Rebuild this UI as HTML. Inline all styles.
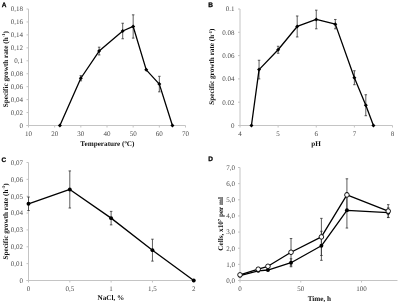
<!DOCTYPE html>
<html><head><meta charset="utf-8"><title>Figure</title>
<style>html,body{margin:0;padding:0;background:#fff;}svg{display:block;text-rendering:geometricPrecision}</style></head>
<body><svg width="400" height="304" viewBox="0 0 400 304">
<rect width="400" height="304" fill="#fff"/>
<line x1="28.50" y1="9.00" x2="28.50" y2="125.50" stroke="#c4c4c4" stroke-width="1"/>
<line x1="26.50" y1="125.50" x2="185.50" y2="125.50" stroke="#c4c4c4" stroke-width="1"/>
<line x1="26.50" y1="125.50" x2="28.50" y2="125.50" stroke="#c4c4c4" stroke-width="1"/>
<text x="23.10" y="127.80" font-size="7" text-anchor="end" font-weight="normal" fill="#4a4a4a" font-family="'Liberation Serif',serif">0</text>
<line x1="26.50" y1="112.56" x2="28.50" y2="112.56" stroke="#c4c4c4" stroke-width="1"/>
<text x="23.10" y="114.86" font-size="7" text-anchor="end" font-weight="normal" fill="#4a4a4a" font-family="'Liberation Serif',serif">0,02</text>
<line x1="26.50" y1="99.61" x2="28.50" y2="99.61" stroke="#c4c4c4" stroke-width="1"/>
<text x="23.10" y="101.91" font-size="7" text-anchor="end" font-weight="normal" fill="#4a4a4a" font-family="'Liberation Serif',serif">0,04</text>
<line x1="26.50" y1="86.67" x2="28.50" y2="86.67" stroke="#c4c4c4" stroke-width="1"/>
<text x="23.10" y="88.97" font-size="7" text-anchor="end" font-weight="normal" fill="#4a4a4a" font-family="'Liberation Serif',serif">0,06</text>
<line x1="26.50" y1="73.72" x2="28.50" y2="73.72" stroke="#c4c4c4" stroke-width="1"/>
<text x="23.10" y="76.02" font-size="7" text-anchor="end" font-weight="normal" fill="#4a4a4a" font-family="'Liberation Serif',serif">0,08</text>
<line x1="26.50" y1="60.78" x2="28.50" y2="60.78" stroke="#c4c4c4" stroke-width="1"/>
<text x="23.10" y="63.08" font-size="7" text-anchor="end" font-weight="normal" fill="#4a4a4a" font-family="'Liberation Serif',serif">0,1</text>
<line x1="26.50" y1="47.83" x2="28.50" y2="47.83" stroke="#c4c4c4" stroke-width="1"/>
<text x="23.10" y="50.13" font-size="7" text-anchor="end" font-weight="normal" fill="#4a4a4a" font-family="'Liberation Serif',serif">0,12</text>
<line x1="26.50" y1="34.89" x2="28.50" y2="34.89" stroke="#c4c4c4" stroke-width="1"/>
<text x="23.10" y="37.19" font-size="7" text-anchor="end" font-weight="normal" fill="#4a4a4a" font-family="'Liberation Serif',serif">0,14</text>
<line x1="26.50" y1="21.94" x2="28.50" y2="21.94" stroke="#c4c4c4" stroke-width="1"/>
<text x="23.10" y="24.24" font-size="7" text-anchor="end" font-weight="normal" fill="#4a4a4a" font-family="'Liberation Serif',serif">0,16</text>
<line x1="26.50" y1="9.00" x2="28.50" y2="9.00" stroke="#c4c4c4" stroke-width="1"/>
<text x="23.10" y="11.30" font-size="7" text-anchor="end" font-weight="normal" fill="#4a4a4a" font-family="'Liberation Serif',serif">0,18</text>
<line x1="28.50" y1="125.50" x2="28.50" y2="127.50" stroke="#c4c4c4" stroke-width="1"/>
<text x="28.50" y="135.50" font-size="7" text-anchor="middle" font-weight="normal" fill="#4a4a4a" font-family="'Liberation Serif',serif">10</text>
<line x1="54.67" y1="125.50" x2="54.67" y2="127.50" stroke="#c4c4c4" stroke-width="1"/>
<text x="54.67" y="135.50" font-size="7" text-anchor="middle" font-weight="normal" fill="#4a4a4a" font-family="'Liberation Serif',serif">20</text>
<line x1="80.83" y1="125.50" x2="80.83" y2="127.50" stroke="#c4c4c4" stroke-width="1"/>
<text x="80.83" y="135.50" font-size="7" text-anchor="middle" font-weight="normal" fill="#4a4a4a" font-family="'Liberation Serif',serif">30</text>
<line x1="107.00" y1="125.50" x2="107.00" y2="127.50" stroke="#c4c4c4" stroke-width="1"/>
<text x="107.00" y="135.50" font-size="7" text-anchor="middle" font-weight="normal" fill="#4a4a4a" font-family="'Liberation Serif',serif">40</text>
<line x1="133.17" y1="125.50" x2="133.17" y2="127.50" stroke="#c4c4c4" stroke-width="1"/>
<text x="133.17" y="135.50" font-size="7" text-anchor="middle" font-weight="normal" fill="#4a4a4a" font-family="'Liberation Serif',serif">50</text>
<line x1="159.33" y1="125.50" x2="159.33" y2="127.50" stroke="#c4c4c4" stroke-width="1"/>
<text x="159.33" y="135.50" font-size="7" text-anchor="middle" font-weight="normal" fill="#4a4a4a" font-family="'Liberation Serif',serif">60</text>
<line x1="185.50" y1="125.50" x2="185.50" y2="127.50" stroke="#c4c4c4" stroke-width="1"/>
<text x="185.50" y="135.50" font-size="7" text-anchor="middle" font-weight="normal" fill="#4a4a4a" font-family="'Liberation Serif',serif">70</text>
<text x="1.70" y="7.30" font-size="6.5" font-weight="bold" fill="#000" stroke="#000" stroke-width="0.25" font-family="'Liberation Sans',sans-serif">A</text>
<text x="107.40" y="145.80" font-size="7.2" text-anchor="middle" font-weight="bold" fill="#111" font-family="'Liberation Serif',serif">Temperature (ºC)</text>
<text transform="translate(7.50,69.25) rotate(-90)" font-size="7.2" text-anchor="middle" font-weight="bold" fill="#111" font-family="'Liberation Serif',serif">Specific growth rate (h<tspan font-size="4.5" dy="-2.5">-1</tspan><tspan dy="2.5">)</tspan></text>
<line x1="80.83" y1="75.66" x2="80.83" y2="80.84" stroke="#333" stroke-width="0.8"/>
<line x1="79.58" y1="75.66" x2="82.08" y2="75.66" stroke="#333" stroke-width="0.8"/>
<line x1="79.58" y1="80.84" x2="82.08" y2="80.84" stroke="#333" stroke-width="0.8"/>
<line x1="99.15" y1="47.19" x2="99.15" y2="54.95" stroke="#333" stroke-width="0.8"/>
<line x1="97.90" y1="47.19" x2="100.40" y2="47.19" stroke="#333" stroke-width="0.8"/>
<line x1="97.90" y1="54.95" x2="100.40" y2="54.95" stroke="#333" stroke-width="0.8"/>
<line x1="122.70" y1="23.24" x2="122.70" y2="38.77" stroke="#333" stroke-width="0.8"/>
<line x1="121.45" y1="23.24" x2="123.95" y2="23.24" stroke="#333" stroke-width="0.8"/>
<line x1="121.45" y1="38.77" x2="123.95" y2="38.77" stroke="#333" stroke-width="0.8"/>
<line x1="133.17" y1="14.83" x2="133.17" y2="38.12" stroke="#333" stroke-width="0.8"/>
<line x1="131.92" y1="14.83" x2="134.42" y2="14.83" stroke="#333" stroke-width="0.8"/>
<line x1="131.92" y1="38.12" x2="134.42" y2="38.12" stroke="#333" stroke-width="0.8"/>
<line x1="159.33" y1="76.31" x2="159.33" y2="91.84" stroke="#333" stroke-width="0.8"/>
<line x1="158.08" y1="76.31" x2="160.58" y2="76.31" stroke="#333" stroke-width="0.8"/>
<line x1="158.08" y1="91.84" x2="160.58" y2="91.84" stroke="#333" stroke-width="0.8"/>
<polyline points="59.90,125.50 80.83,78.25 99.15,51.07 122.70,31.01 133.17,26.47 146.25,69.84 159.33,84.08 172.42,125.50" fill="none" stroke="#000" stroke-width="1.3" stroke-linejoin="round"/>
<polygon points="59.90,123.50 61.90,125.50 59.90,127.50 57.90,125.50" fill="#000"/>
<polygon points="80.83,76.25 82.83,78.25 80.83,80.25 78.83,78.25" fill="#000"/>
<polygon points="99.15,49.07 101.15,51.07 99.15,53.07 97.15,51.07" fill="#000"/>
<polygon points="122.70,29.01 124.70,31.01 122.70,33.01 120.70,31.01" fill="#000"/>
<polygon points="133.17,24.47 135.17,26.47 133.17,28.47 131.17,26.47" fill="#000"/>
<polygon points="146.25,67.84 148.25,69.84 146.25,71.84 144.25,69.84" fill="#000"/>
<polygon points="159.33,82.08 161.33,84.08 159.33,86.08 157.33,84.08" fill="#000"/>
<polygon points="172.42,123.50 174.42,125.50 172.42,127.50 170.42,125.50" fill="#000"/>
<line x1="240.00" y1="9.00" x2="240.00" y2="125.50" stroke="#c4c4c4" stroke-width="1"/>
<line x1="238.00" y1="125.50" x2="392.50" y2="125.50" stroke="#c4c4c4" stroke-width="1"/>
<line x1="238.00" y1="125.50" x2="240.00" y2="125.50" stroke="#c4c4c4" stroke-width="1"/>
<text x="234.60" y="127.80" font-size="7" text-anchor="end" font-weight="normal" fill="#4a4a4a" font-family="'Liberation Serif',serif">0</text>
<line x1="238.00" y1="102.20" x2="240.00" y2="102.20" stroke="#c4c4c4" stroke-width="1"/>
<text x="234.60" y="104.50" font-size="7" text-anchor="end" font-weight="normal" fill="#4a4a4a" font-family="'Liberation Serif',serif">0.02</text>
<line x1="238.00" y1="78.90" x2="240.00" y2="78.90" stroke="#c4c4c4" stroke-width="1"/>
<text x="234.60" y="81.20" font-size="7" text-anchor="end" font-weight="normal" fill="#4a4a4a" font-family="'Liberation Serif',serif">0.04</text>
<line x1="238.00" y1="55.60" x2="240.00" y2="55.60" stroke="#c4c4c4" stroke-width="1"/>
<text x="234.60" y="57.90" font-size="7" text-anchor="end" font-weight="normal" fill="#4a4a4a" font-family="'Liberation Serif',serif">0.06</text>
<line x1="238.00" y1="32.30" x2="240.00" y2="32.30" stroke="#c4c4c4" stroke-width="1"/>
<text x="234.60" y="34.60" font-size="7" text-anchor="end" font-weight="normal" fill="#4a4a4a" font-family="'Liberation Serif',serif">0.08</text>
<line x1="238.00" y1="9.00" x2="240.00" y2="9.00" stroke="#c4c4c4" stroke-width="1"/>
<text x="234.60" y="11.30" font-size="7" text-anchor="end" font-weight="normal" fill="#4a4a4a" font-family="'Liberation Serif',serif">0.1</text>
<line x1="240.00" y1="125.50" x2="240.00" y2="127.50" stroke="#c4c4c4" stroke-width="1"/>
<text x="240.00" y="135.50" font-size="7" text-anchor="middle" font-weight="normal" fill="#4a4a4a" font-family="'Liberation Serif',serif">4</text>
<line x1="278.12" y1="125.50" x2="278.12" y2="127.50" stroke="#c4c4c4" stroke-width="1"/>
<text x="278.12" y="135.50" font-size="7" text-anchor="middle" font-weight="normal" fill="#4a4a4a" font-family="'Liberation Serif',serif">5</text>
<line x1="316.25" y1="125.50" x2="316.25" y2="127.50" stroke="#c4c4c4" stroke-width="1"/>
<text x="316.25" y="135.50" font-size="7" text-anchor="middle" font-weight="normal" fill="#4a4a4a" font-family="'Liberation Serif',serif">6</text>
<line x1="354.38" y1="125.50" x2="354.38" y2="127.50" stroke="#c4c4c4" stroke-width="1"/>
<text x="354.38" y="135.50" font-size="7" text-anchor="middle" font-weight="normal" fill="#4a4a4a" font-family="'Liberation Serif',serif">7</text>
<line x1="392.50" y1="125.50" x2="392.50" y2="127.50" stroke="#c4c4c4" stroke-width="1"/>
<text x="392.50" y="135.50" font-size="7" text-anchor="middle" font-weight="normal" fill="#4a4a4a" font-family="'Liberation Serif',serif">8</text>
<text x="208.30" y="7.30" font-size="6.5" font-weight="bold" fill="#000" stroke="#000" stroke-width="0.25" font-family="'Liberation Sans',sans-serif">B</text>
<text x="316.10" y="145.60" font-size="7.2" text-anchor="middle" font-weight="bold" fill="#111" font-family="'Liberation Serif',serif">pH</text>
<text transform="translate(214.00,66.70) rotate(-90)" font-size="7.2" text-anchor="middle" font-weight="bold" fill="#111" font-family="'Liberation Serif',serif">Specific growth rate (h<tspan font-size="4.5" dy="-2.5">-1</tspan><tspan dy="2.5">)</tspan></text>
<line x1="259.06" y1="60.26" x2="259.06" y2="78.90" stroke="#333" stroke-width="0.8"/>
<line x1="257.81" y1="60.26" x2="260.31" y2="60.26" stroke="#333" stroke-width="0.8"/>
<line x1="257.81" y1="78.90" x2="260.31" y2="78.90" stroke="#333" stroke-width="0.8"/>
<line x1="278.12" y1="46.28" x2="278.12" y2="53.27" stroke="#333" stroke-width="0.8"/>
<line x1="276.88" y1="46.28" x2="279.38" y2="46.28" stroke="#333" stroke-width="0.8"/>
<line x1="276.88" y1="53.27" x2="279.38" y2="53.27" stroke="#333" stroke-width="0.8"/>
<line x1="297.19" y1="15.99" x2="297.19" y2="36.96" stroke="#333" stroke-width="0.8"/>
<line x1="295.94" y1="15.99" x2="298.44" y2="15.99" stroke="#333" stroke-width="0.8"/>
<line x1="295.94" y1="36.96" x2="298.44" y2="36.96" stroke="#333" stroke-width="0.8"/>
<line x1="316.25" y1="10.16" x2="316.25" y2="28.81" stroke="#333" stroke-width="0.8"/>
<line x1="315.00" y1="10.16" x2="317.50" y2="10.16" stroke="#333" stroke-width="0.8"/>
<line x1="315.00" y1="28.81" x2="317.50" y2="28.81" stroke="#333" stroke-width="0.8"/>
<line x1="335.31" y1="19.48" x2="335.31" y2="28.81" stroke="#333" stroke-width="0.8"/>
<line x1="334.06" y1="19.48" x2="336.56" y2="19.48" stroke="#333" stroke-width="0.8"/>
<line x1="334.06" y1="28.81" x2="336.56" y2="28.81" stroke="#333" stroke-width="0.8"/>
<line x1="354.38" y1="70.75" x2="354.38" y2="84.72" stroke="#333" stroke-width="0.8"/>
<line x1="353.12" y1="70.75" x2="355.62" y2="70.75" stroke="#333" stroke-width="0.8"/>
<line x1="353.12" y1="84.72" x2="355.62" y2="84.72" stroke="#333" stroke-width="0.8"/>
<line x1="365.81" y1="94.74" x2="365.81" y2="115.71" stroke="#333" stroke-width="0.8"/>
<line x1="364.56" y1="94.74" x2="367.06" y2="94.74" stroke="#333" stroke-width="0.8"/>
<line x1="364.56" y1="115.71" x2="367.06" y2="115.71" stroke="#333" stroke-width="0.8"/>
<polyline points="251.44,125.50 259.06,69.58 278.12,49.77 297.19,26.47 316.25,19.48 335.31,24.15 354.38,77.73 365.81,105.23 373.44,125.50" fill="none" stroke="#000" stroke-width="1.3" stroke-linejoin="round"/>
<polygon points="251.44,123.50 253.44,125.50 251.44,127.50 249.44,125.50" fill="#000"/>
<polygon points="259.06,67.58 261.06,69.58 259.06,71.58 257.06,69.58" fill="#000"/>
<polygon points="278.12,47.77 280.12,49.77 278.12,51.77 276.12,49.77" fill="#000"/>
<polygon points="297.19,24.47 299.19,26.47 297.19,28.47 295.19,26.47" fill="#000"/>
<polygon points="316.25,17.48 318.25,19.48 316.25,21.48 314.25,19.48" fill="#000"/>
<polygon points="335.31,22.15 337.31,24.15 335.31,26.15 333.31,24.15" fill="#000"/>
<polygon points="354.38,75.73 356.38,77.73 354.38,79.73 352.38,77.73" fill="#000"/>
<polygon points="365.81,103.23 367.81,105.23 365.81,107.23 363.81,105.23" fill="#000"/>
<polygon points="373.44,123.50 375.44,125.50 373.44,127.50 371.44,125.50" fill="#000"/>
<line x1="28.50" y1="162.50" x2="28.50" y2="280.50" stroke="#c4c4c4" stroke-width="1"/>
<line x1="26.50" y1="280.50" x2="193.75" y2="280.50" stroke="#c4c4c4" stroke-width="1"/>
<line x1="26.50" y1="280.50" x2="28.50" y2="280.50" stroke="#c4c4c4" stroke-width="1"/>
<text x="23.10" y="282.80" font-size="7" text-anchor="end" font-weight="normal" fill="#4a4a4a" font-family="'Liberation Serif',serif">0</text>
<line x1="26.50" y1="263.64" x2="28.50" y2="263.64" stroke="#c4c4c4" stroke-width="1"/>
<text x="23.10" y="265.94" font-size="7" text-anchor="end" font-weight="normal" fill="#4a4a4a" font-family="'Liberation Serif',serif">0,01</text>
<line x1="26.50" y1="246.79" x2="28.50" y2="246.79" stroke="#c4c4c4" stroke-width="1"/>
<text x="23.10" y="249.09" font-size="7" text-anchor="end" font-weight="normal" fill="#4a4a4a" font-family="'Liberation Serif',serif">0,02</text>
<line x1="26.50" y1="229.93" x2="28.50" y2="229.93" stroke="#c4c4c4" stroke-width="1"/>
<text x="23.10" y="232.23" font-size="7" text-anchor="end" font-weight="normal" fill="#4a4a4a" font-family="'Liberation Serif',serif">0,03</text>
<line x1="26.50" y1="213.07" x2="28.50" y2="213.07" stroke="#c4c4c4" stroke-width="1"/>
<text x="23.10" y="215.37" font-size="7" text-anchor="end" font-weight="normal" fill="#4a4a4a" font-family="'Liberation Serif',serif">0,04</text>
<line x1="26.50" y1="196.21" x2="28.50" y2="196.21" stroke="#c4c4c4" stroke-width="1"/>
<text x="23.10" y="198.51" font-size="7" text-anchor="end" font-weight="normal" fill="#4a4a4a" font-family="'Liberation Serif',serif">0,05</text>
<line x1="26.50" y1="179.36" x2="28.50" y2="179.36" stroke="#c4c4c4" stroke-width="1"/>
<text x="23.10" y="181.66" font-size="7" text-anchor="end" font-weight="normal" fill="#4a4a4a" font-family="'Liberation Serif',serif">0,06</text>
<line x1="26.50" y1="162.50" x2="28.50" y2="162.50" stroke="#c4c4c4" stroke-width="1"/>
<text x="23.10" y="164.80" font-size="7" text-anchor="end" font-weight="normal" fill="#4a4a4a" font-family="'Liberation Serif',serif">0,07</text>
<line x1="28.50" y1="280.50" x2="28.50" y2="282.50" stroke="#c4c4c4" stroke-width="1"/>
<text x="28.50" y="290.50" font-size="7" text-anchor="middle" font-weight="normal" fill="#4a4a4a" font-family="'Liberation Serif',serif">0</text>
<line x1="69.81" y1="280.50" x2="69.81" y2="282.50" stroke="#c4c4c4" stroke-width="1"/>
<text x="69.81" y="290.50" font-size="7" text-anchor="middle" font-weight="normal" fill="#4a4a4a" font-family="'Liberation Serif',serif">0,5</text>
<line x1="111.12" y1="280.50" x2="111.12" y2="282.50" stroke="#c4c4c4" stroke-width="1"/>
<text x="111.12" y="290.50" font-size="7" text-anchor="middle" font-weight="normal" fill="#4a4a4a" font-family="'Liberation Serif',serif">1</text>
<line x1="152.44" y1="280.50" x2="152.44" y2="282.50" stroke="#c4c4c4" stroke-width="1"/>
<text x="152.44" y="290.50" font-size="7" text-anchor="middle" font-weight="normal" fill="#4a4a4a" font-family="'Liberation Serif',serif">1,5</text>
<line x1="193.75" y1="280.50" x2="193.75" y2="282.50" stroke="#c4c4c4" stroke-width="1"/>
<text x="193.75" y="290.50" font-size="7" text-anchor="middle" font-weight="normal" fill="#4a4a4a" font-family="'Liberation Serif',serif">2</text>
<text x="1.40" y="161.80" font-size="6.5" font-weight="bold" fill="#000" stroke="#000" stroke-width="0.25" font-family="'Liberation Sans',sans-serif">C</text>
<text x="110.90" y="300.00" font-size="7.2" text-anchor="middle" font-weight="bold" fill="#111" font-family="'Liberation Serif',serif">NaCl, %</text>
<text transform="translate(7.60,221.50) rotate(-90)" font-size="7.2" text-anchor="middle" font-weight="bold" fill="#111" font-family="'Liberation Serif',serif">Specific growth rate (h<tspan font-size="4.5" dy="-2.5">-1</tspan><tspan dy="2.5">)</tspan></text>
<line x1="28.50" y1="197.06" x2="28.50" y2="210.54" stroke="#333" stroke-width="0.8"/>
<line x1="27.25" y1="197.06" x2="29.75" y2="197.06" stroke="#333" stroke-width="0.8"/>
<line x1="27.25" y1="210.54" x2="29.75" y2="210.54" stroke="#333" stroke-width="0.8"/>
<line x1="69.81" y1="170.93" x2="69.81" y2="208.01" stroke="#333" stroke-width="0.8"/>
<line x1="68.56" y1="170.93" x2="71.06" y2="170.93" stroke="#333" stroke-width="0.8"/>
<line x1="68.56" y1="208.01" x2="71.06" y2="208.01" stroke="#333" stroke-width="0.8"/>
<line x1="111.12" y1="211.39" x2="111.12" y2="224.87" stroke="#333" stroke-width="0.8"/>
<line x1="109.88" y1="211.39" x2="112.38" y2="211.39" stroke="#333" stroke-width="0.8"/>
<line x1="109.88" y1="224.87" x2="112.38" y2="224.87" stroke="#333" stroke-width="0.8"/>
<line x1="152.44" y1="239.20" x2="152.44" y2="261.11" stroke="#333" stroke-width="0.8"/>
<line x1="151.19" y1="239.20" x2="153.69" y2="239.20" stroke="#333" stroke-width="0.8"/>
<line x1="151.19" y1="261.11" x2="153.69" y2="261.11" stroke="#333" stroke-width="0.8"/>
<polyline points="28.50,203.80 69.81,189.47 111.12,218.13 152.44,250.16 193.75,280.50" fill="none" stroke="#000" stroke-width="1.3" stroke-linejoin="round"/>
<circle cx="28.50" cy="203.80" r="1.95" fill="#000"/>
<circle cx="69.81" cy="189.47" r="1.95" fill="#000"/>
<circle cx="111.12" cy="218.13" r="1.95" fill="#000"/>
<circle cx="152.44" cy="250.16" r="1.95" fill="#000"/>
<circle cx="193.75" cy="280.50" r="1.95" fill="#000"/>
<line x1="240.00" y1="167.50" x2="240.00" y2="280.50" stroke="#c4c4c4" stroke-width="1"/>
<line x1="238.00" y1="280.50" x2="397.50" y2="280.50" stroke="#c4c4c4" stroke-width="1"/>
<line x1="238.00" y1="280.50" x2="240.00" y2="280.50" stroke="#c4c4c4" stroke-width="1"/>
<text x="235.10" y="282.80" font-size="7" text-anchor="end" font-weight="normal" fill="#4a4a4a" font-family="'Liberation Serif',serif">0,0</text>
<line x1="238.00" y1="264.36" x2="240.00" y2="264.36" stroke="#c4c4c4" stroke-width="1"/>
<text x="235.10" y="266.66" font-size="7" text-anchor="end" font-weight="normal" fill="#4a4a4a" font-family="'Liberation Serif',serif">1,0</text>
<line x1="238.00" y1="248.21" x2="240.00" y2="248.21" stroke="#c4c4c4" stroke-width="1"/>
<text x="235.10" y="250.51" font-size="7" text-anchor="end" font-weight="normal" fill="#4a4a4a" font-family="'Liberation Serif',serif">2,0</text>
<line x1="238.00" y1="232.07" x2="240.00" y2="232.07" stroke="#c4c4c4" stroke-width="1"/>
<text x="235.10" y="234.37" font-size="7" text-anchor="end" font-weight="normal" fill="#4a4a4a" font-family="'Liberation Serif',serif">3,0</text>
<line x1="238.00" y1="215.93" x2="240.00" y2="215.93" stroke="#c4c4c4" stroke-width="1"/>
<text x="235.10" y="218.23" font-size="7" text-anchor="end" font-weight="normal" fill="#4a4a4a" font-family="'Liberation Serif',serif">4,0</text>
<line x1="238.00" y1="199.79" x2="240.00" y2="199.79" stroke="#c4c4c4" stroke-width="1"/>
<text x="235.10" y="202.09" font-size="7" text-anchor="end" font-weight="normal" fill="#4a4a4a" font-family="'Liberation Serif',serif">5,0</text>
<line x1="238.00" y1="183.64" x2="240.00" y2="183.64" stroke="#c4c4c4" stroke-width="1"/>
<text x="235.10" y="185.94" font-size="7" text-anchor="end" font-weight="normal" fill="#4a4a4a" font-family="'Liberation Serif',serif">6,0</text>
<line x1="238.00" y1="167.50" x2="240.00" y2="167.50" stroke="#c4c4c4" stroke-width="1"/>
<text x="235.10" y="169.80" font-size="7" text-anchor="end" font-weight="normal" fill="#4a4a4a" font-family="'Liberation Serif',serif">7,0</text>
<line x1="240.00" y1="280.50" x2="240.00" y2="282.50" stroke="#c4c4c4" stroke-width="1"/>
<text x="240.00" y="290.50" font-size="7" text-anchor="middle" font-weight="normal" fill="#4a4a4a" font-family="'Liberation Serif',serif">0</text>
<line x1="300.75" y1="280.50" x2="300.75" y2="282.50" stroke="#c4c4c4" stroke-width="1"/>
<text x="300.75" y="290.50" font-size="7" text-anchor="middle" font-weight="normal" fill="#4a4a4a" font-family="'Liberation Serif',serif">50</text>
<line x1="361.50" y1="280.50" x2="361.50" y2="282.50" stroke="#c4c4c4" stroke-width="1"/>
<text x="361.50" y="290.50" font-size="7" text-anchor="middle" font-weight="normal" fill="#4a4a4a" font-family="'Liberation Serif',serif">100</text>
<text x="208.30" y="161.40" font-size="6.5" font-weight="bold" fill="#000" stroke="#000" stroke-width="0.25" font-family="'Liberation Sans',sans-serif">D</text>
<text x="319.40" y="301.30" font-size="7.2" text-anchor="middle" font-weight="bold" fill="#111" font-family="'Liberation Serif',serif">Time, h</text>
<text transform="translate(223.20,223.90) rotate(-90)" font-size="7.2" text-anchor="middle" font-weight="bold" fill="#111" font-family="'Liberation Serif',serif">Cells, x10<tspan font-size="4.5" dy="-2.5">7</tspan><tspan dy="2.5"> per ml</tspan></text>
<line x1="258.23" y1="270.01" x2="258.23" y2="271.62" stroke="#333" stroke-width="0.8"/>
<line x1="256.98" y1="270.01" x2="259.48" y2="270.01" stroke="#333" stroke-width="0.8"/>
<line x1="256.98" y1="271.62" x2="259.48" y2="271.62" stroke="#333" stroke-width="0.8"/>
<line x1="267.94" y1="269.20" x2="267.94" y2="270.81" stroke="#333" stroke-width="0.8"/>
<line x1="266.69" y1="269.20" x2="269.19" y2="269.20" stroke="#333" stroke-width="0.8"/>
<line x1="266.69" y1="270.81" x2="269.19" y2="270.81" stroke="#333" stroke-width="0.8"/>
<line x1="291.03" y1="258.71" x2="291.03" y2="266.78" stroke="#333" stroke-width="0.8"/>
<line x1="289.78" y1="258.71" x2="292.28" y2="258.71" stroke="#333" stroke-width="0.8"/>
<line x1="289.78" y1="266.78" x2="292.28" y2="266.78" stroke="#333" stroke-width="0.8"/>
<line x1="321.40" y1="231.26" x2="321.40" y2="260.32" stroke="#333" stroke-width="0.8"/>
<line x1="320.15" y1="231.26" x2="322.65" y2="231.26" stroke="#333" stroke-width="0.8"/>
<line x1="320.15" y1="260.32" x2="322.65" y2="260.32" stroke="#333" stroke-width="0.8"/>
<line x1="346.92" y1="192.52" x2="346.92" y2="228.04" stroke="#333" stroke-width="0.8"/>
<line x1="345.67" y1="192.52" x2="348.17" y2="192.52" stroke="#333" stroke-width="0.8"/>
<line x1="345.67" y1="228.04" x2="348.17" y2="228.04" stroke="#333" stroke-width="0.8"/>
<line x1="388.23" y1="207.86" x2="388.23" y2="217.54" stroke="#333" stroke-width="0.8"/>
<line x1="386.98" y1="207.86" x2="389.48" y2="207.86" stroke="#333" stroke-width="0.8"/>
<line x1="386.98" y1="217.54" x2="389.48" y2="217.54" stroke="#333" stroke-width="0.8"/>
<line x1="258.23" y1="268.39" x2="258.23" y2="270.01" stroke="#333" stroke-width="0.8"/>
<line x1="256.98" y1="268.39" x2="259.48" y2="268.39" stroke="#333" stroke-width="0.8"/>
<line x1="256.98" y1="270.01" x2="259.48" y2="270.01" stroke="#333" stroke-width="0.8"/>
<line x1="267.94" y1="265.49" x2="267.94" y2="267.10" stroke="#333" stroke-width="0.8"/>
<line x1="266.69" y1="265.49" x2="269.19" y2="265.49" stroke="#333" stroke-width="0.8"/>
<line x1="266.69" y1="267.10" x2="269.19" y2="267.10" stroke="#333" stroke-width="0.8"/>
<line x1="291.03" y1="238.53" x2="291.03" y2="265.97" stroke="#333" stroke-width="0.8"/>
<line x1="289.78" y1="238.53" x2="292.28" y2="238.53" stroke="#333" stroke-width="0.8"/>
<line x1="289.78" y1="265.97" x2="292.28" y2="265.97" stroke="#333" stroke-width="0.8"/>
<line x1="321.40" y1="218.35" x2="321.40" y2="255.48" stroke="#333" stroke-width="0.8"/>
<line x1="320.15" y1="218.35" x2="322.65" y2="218.35" stroke="#333" stroke-width="0.8"/>
<line x1="320.15" y1="255.48" x2="322.65" y2="255.48" stroke="#333" stroke-width="0.8"/>
<line x1="346.92" y1="178.80" x2="346.92" y2="211.09" stroke="#333" stroke-width="0.8"/>
<line x1="345.67" y1="178.80" x2="348.17" y2="178.80" stroke="#333" stroke-width="0.8"/>
<line x1="345.67" y1="211.09" x2="348.17" y2="211.09" stroke="#333" stroke-width="0.8"/>
<line x1="388.23" y1="204.63" x2="388.23" y2="217.54" stroke="#333" stroke-width="0.8"/>
<line x1="386.98" y1="204.63" x2="389.48" y2="204.63" stroke="#333" stroke-width="0.8"/>
<line x1="386.98" y1="217.54" x2="389.48" y2="217.54" stroke="#333" stroke-width="0.8"/>
<polyline points="240.00,275.66 258.23,270.81 267.94,270.01 291.03,262.74 321.40,245.79 346.92,210.28 388.23,212.70" fill="none" stroke="#000" stroke-width="1.3" stroke-linejoin="round"/>
<circle cx="240.00" cy="275.66" r="1.95" fill="#000"/>
<circle cx="258.23" cy="270.81" r="1.95" fill="#000"/>
<circle cx="267.94" cy="270.01" r="1.95" fill="#000"/>
<circle cx="291.03" cy="262.74" r="1.95" fill="#000"/>
<circle cx="321.40" cy="245.79" r="1.95" fill="#000"/>
<circle cx="346.92" cy="210.28" r="1.95" fill="#000"/>
<circle cx="388.23" cy="212.70" r="1.95" fill="#000"/>
<polyline points="240.00,274.85 258.23,269.20 267.94,266.29 291.03,252.25 321.40,236.91 346.92,194.94 388.23,211.09" fill="none" stroke="#000" stroke-width="1.3" stroke-linejoin="round"/>
<circle cx="240.00" cy="274.85" r="2.3" fill="#fff" stroke="#000" stroke-width="0.9"/>
<circle cx="258.23" cy="269.20" r="2.3" fill="#fff" stroke="#000" stroke-width="0.9"/>
<circle cx="267.94" cy="266.29" r="2.3" fill="#fff" stroke="#000" stroke-width="0.9"/>
<circle cx="291.03" cy="252.25" r="2.3" fill="#fff" stroke="#000" stroke-width="0.9"/>
<circle cx="321.40" cy="236.91" r="2.3" fill="#fff" stroke="#000" stroke-width="0.9"/>
<circle cx="346.92" cy="194.94" r="2.3" fill="#fff" stroke="#000" stroke-width="0.9"/>
<circle cx="388.23" cy="211.09" r="2.3" fill="#fff" stroke="#000" stroke-width="0.9"/>
</svg></body></html>
